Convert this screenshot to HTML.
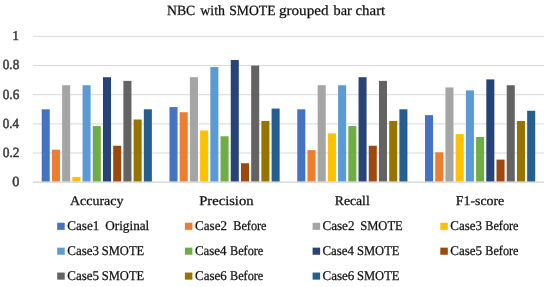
<!DOCTYPE html>
<html><head><meta charset="utf-8"><title>NBC with SMOTE grouped bar chart</title>
<style>html,body{margin:0;padding:0;background:#fff}svg{display:block}</style></head>
<body>
<svg width="550" height="287" viewBox="0 0 550 287" font-family="'Liberation Serif', serif" text-rendering="geometricPrecision">
<rect width="550" height="287" fill="#fff"/>
<line x1="32.9" x2="544.0" y1="182.20" y2="182.20" stroke="#D9D9D9" stroke-width="1"/>
<line x1="32.9" x2="544.0" y1="153.04" y2="153.04" stroke="#D9D9D9" stroke-width="1"/>
<line x1="32.9" x2="544.0" y1="123.88" y2="123.88" stroke="#D9D9D9" stroke-width="1"/>
<line x1="32.9" x2="544.0" y1="94.72" y2="94.72" stroke="#D9D9D9" stroke-width="1"/>
<line x1="32.9" x2="544.0" y1="65.56" y2="65.56" stroke="#D9D9D9" stroke-width="1"/>
<line x1="32.9" x2="544.0" y1="36.40" y2="36.40" stroke="#D9D9D9" stroke-width="1"/>
<rect x="41.71" y="109.30" width="8.04" height="72.30" fill="#4472C4"/>
<rect x="51.92" y="149.69" width="8.04" height="31.91" fill="#ED7D31"/>
<rect x="62.13" y="85.24" width="8.04" height="96.36" fill="#A5A5A5"/>
<rect x="72.34" y="177.10" width="8.04" height="4.50" fill="#FFC000"/>
<rect x="82.55" y="85.24" width="8.04" height="96.36" fill="#5B9BD5"/>
<rect x="92.77" y="126.07" width="8.04" height="55.53" fill="#70AD47"/>
<rect x="102.98" y="77.22" width="8.04" height="104.38" fill="#264478"/>
<rect x="113.19" y="145.75" width="8.04" height="35.85" fill="#9E480E"/>
<rect x="123.40" y="80.87" width="8.04" height="100.73" fill="#636363"/>
<rect x="133.62" y="119.51" width="8.04" height="62.09" fill="#997300"/>
<rect x="143.83" y="109.30" width="8.04" height="72.30" fill="#255E91"/>
<rect x="169.48" y="107.11" width="8.04" height="74.49" fill="#4472C4"/>
<rect x="179.69" y="112.22" width="8.04" height="69.38" fill="#ED7D31"/>
<rect x="189.90" y="77.22" width="8.04" height="104.38" fill="#A5A5A5"/>
<rect x="200.12" y="130.44" width="8.04" height="51.16" fill="#FFC000"/>
<rect x="210.33" y="67.02" width="8.04" height="114.58" fill="#5B9BD5"/>
<rect x="220.54" y="136.27" width="8.04" height="45.33" fill="#70AD47"/>
<rect x="230.75" y="60.02" width="8.04" height="121.58" fill="#264478"/>
<rect x="240.97" y="163.25" width="8.04" height="18.35" fill="#9E480E"/>
<rect x="251.18" y="65.56" width="8.04" height="116.04" fill="#636363"/>
<rect x="261.39" y="120.96" width="8.04" height="60.64" fill="#997300"/>
<rect x="271.60" y="108.57" width="8.04" height="73.03" fill="#255E91"/>
<rect x="297.26" y="109.30" width="8.04" height="72.30" fill="#4472C4"/>
<rect x="307.47" y="150.12" width="8.04" height="31.48" fill="#ED7D31"/>
<rect x="317.68" y="85.24" width="8.04" height="96.36" fill="#A5A5A5"/>
<rect x="327.89" y="133.36" width="8.04" height="48.24" fill="#FFC000"/>
<rect x="338.10" y="85.24" width="8.04" height="96.36" fill="#5B9BD5"/>
<rect x="348.32" y="126.07" width="8.04" height="55.53" fill="#70AD47"/>
<rect x="358.53" y="77.22" width="8.04" height="104.38" fill="#264478"/>
<rect x="368.74" y="145.75" width="8.04" height="35.85" fill="#9E480E"/>
<rect x="378.95" y="80.87" width="8.04" height="100.73" fill="#636363"/>
<rect x="389.17" y="120.96" width="8.04" height="60.64" fill="#997300"/>
<rect x="399.38" y="109.30" width="8.04" height="72.30" fill="#255E91"/>
<rect x="425.03" y="115.13" width="8.04" height="66.47" fill="#4472C4"/>
<rect x="435.24" y="152.31" width="8.04" height="29.29" fill="#ED7D31"/>
<rect x="445.45" y="87.43" width="8.04" height="94.17" fill="#A5A5A5"/>
<rect x="455.67" y="134.09" width="8.04" height="47.51" fill="#FFC000"/>
<rect x="465.88" y="90.35" width="8.04" height="91.25" fill="#5B9BD5"/>
<rect x="476.09" y="137.00" width="8.04" height="44.60" fill="#70AD47"/>
<rect x="486.30" y="79.41" width="8.04" height="102.19" fill="#264478"/>
<rect x="496.52" y="159.60" width="8.04" height="22.00" fill="#9E480E"/>
<rect x="506.73" y="85.24" width="8.04" height="96.36" fill="#636363"/>
<rect x="516.94" y="120.96" width="8.04" height="60.64" fill="#997300"/>
<rect x="527.15" y="110.76" width="8.04" height="70.84" fill="#255E91"/>
<line x1="32.9" x2="544.0" y1="182.20" y2="182.20" stroke="#D9D9D9" stroke-width="1"/>
<rect x="57.20" y="222.75" width="7.5" height="7.1" fill="#4472C4"/>
<rect x="184.90" y="222.75" width="7.5" height="7.1" fill="#ED7D31"/>
<rect x="312.60" y="222.75" width="7.5" height="7.1" fill="#A5A5A5"/>
<rect x="440.30" y="222.75" width="7.5" height="7.1" fill="#FFC000"/>
<rect x="57.20" y="247.65" width="7.5" height="7.1" fill="#5B9BD5"/>
<rect x="184.90" y="247.65" width="7.5" height="7.1" fill="#70AD47"/>
<rect x="312.60" y="247.65" width="7.5" height="7.1" fill="#264478"/>
<rect x="440.30" y="247.65" width="7.5" height="7.1" fill="#9E480E"/>
<rect x="57.20" y="272.55" width="7.5" height="7.1" fill="#636363"/>
<rect x="184.90" y="272.55" width="7.5" height="7.1" fill="#997300"/>
<rect x="312.60" y="272.55" width="7.5" height="7.1" fill="#255E91"/>
<text y="14.75" font-size="14.1" fill="#111111" stroke="#111111" stroke-width="0.25"><tspan id="t0" x="166.99" textLength="28.28" lengthAdjust="spacingAndGlyphs">NBC</tspan> <tspan id="t1" x="200.25" textLength="24.75" lengthAdjust="spacingAndGlyphs">with</tspan> <tspan id="t2" x="229.23" textLength="46.29" lengthAdjust="spacingAndGlyphs">SMOTE</tspan> <tspan id="t3" x="278.99" textLength="49.51" lengthAdjust="spacingAndGlyphs">grouped</tspan> <tspan id="t4" x="333.50" textLength="18.25" lengthAdjust="spacingAndGlyphs">bar</tspan> <tspan id="t5" x="355.50" textLength="29.75" lengthAdjust="spacingAndGlyphs">chart</tspan></text>
<text y="205.30" font-size="13.2" fill="#111111" stroke="#111111" stroke-width="0.25"><tspan id="c0" x="70.00" textLength="53.50" lengthAdjust="spacingAndGlyphs">Accuracy</tspan></text>
<text y="205.30" font-size="13.2" fill="#111111" stroke="#111111" stroke-width="0.25"><tspan id="c1" x="199.25" textLength="54.25" lengthAdjust="spacingAndGlyphs">Precision</tspan></text>
<text y="205.30" font-size="13.2" fill="#111111" stroke="#111111" stroke-width="0.25"><tspan id="c2" x="334.74" textLength="35.01" lengthAdjust="spacingAndGlyphs">Recall</tspan></text>
<text y="205.30" font-size="13.2" fill="#111111" stroke="#111111" stroke-width="0.25"><tspan id="c3" x="455.75" textLength="48.51" lengthAdjust="spacingAndGlyphs">F1-score</tspan></text>
<text id="y0" transform="matrix(1.0166 0 0 1 12.24 0)" x="0" y="186.05" font-size="14.0" fill="#3a3a3a" stroke="#3a3a3a" stroke-width="0.5">0</text>
<text y="156.89" font-size="14.0" fill="#3a3a3a" stroke="#3a3a3a" stroke-width="0.5"><tspan id="y1" x="2.74" textLength="16.79" lengthAdjust="spacingAndGlyphs">0.2</tspan></text>
<text y="127.73" font-size="14.0" fill="#3a3a3a" stroke="#3a3a3a" stroke-width="0.5"><tspan id="y2" x="2.75" textLength="16.25" lengthAdjust="spacingAndGlyphs">0.4</tspan></text>
<text y="98.57" font-size="14.0" fill="#3a3a3a" stroke="#3a3a3a" stroke-width="0.5"><tspan id="y3" x="2.74" textLength="16.52" lengthAdjust="spacingAndGlyphs">0.6</tspan></text>
<text y="69.41" font-size="14.0" fill="#3a3a3a" stroke="#3a3a3a" stroke-width="0.5"><tspan id="y4" x="2.74" textLength="16.52" lengthAdjust="spacingAndGlyphs">0.8</tspan></text>
<text id="y5" transform="matrix(1.0106 0 0 1 12.24 0)" x="0" y="40.25" font-size="13.3" fill="#3a3a3a" stroke="#3a3a3a" stroke-width="0.5">1</text>
<text y="229.90" font-size="13.4" fill="#111111" stroke="#111111" stroke-width="0.25"><tspan id="l0a" x="67.24" textLength="32.03" lengthAdjust="spacingAndGlyphs">Case1</tspan> <tspan id="l0b" x="105.25" textLength="44.01" lengthAdjust="spacingAndGlyphs">Original</tspan></text>
<text y="229.90" font-size="13.4" fill="#111111" stroke="#111111" stroke-width="0.25"><tspan id="l1a" x="194.99" textLength="32.04" lengthAdjust="spacingAndGlyphs">Case2</tspan> <tspan id="l1b" x="233.25" textLength="33.26" lengthAdjust="spacingAndGlyphs">Before</tspan></text>
<text y="229.90" font-size="13.4" fill="#111111" stroke="#111111" stroke-width="0.25"><tspan id="l2a" x="322.48" textLength="32.03" lengthAdjust="spacingAndGlyphs">Case2</tspan> <tspan id="l2b" x="360.23" textLength="42.54" lengthAdjust="spacingAndGlyphs">SMOTE</tspan></text>
<text y="229.90" font-size="13.4" fill="#111111" stroke="#111111" stroke-width="0.25"><tspan id="l3a" x="450.24" textLength="31.77" lengthAdjust="spacingAndGlyphs">Case3</tspan> <tspan id="l3b" x="485.25" textLength="33.26" lengthAdjust="spacingAndGlyphs">Before</tspan></text>
<text y="254.80" font-size="13.4" fill="#111111" stroke="#111111" stroke-width="0.25"><tspan id="l4a" x="67.24" textLength="31.77" lengthAdjust="spacingAndGlyphs">Case3</tspan> <tspan id="l4b" x="101.73" textLength="42.54" lengthAdjust="spacingAndGlyphs">SMOTE</tspan></text>
<text y="254.80" font-size="13.4" fill="#111111" stroke="#111111" stroke-width="0.25"><tspan id="l5a" x="194.99" textLength="31.51" lengthAdjust="spacingAndGlyphs">Case4</tspan> <tspan id="l5b" x="229.99" textLength="33.26" lengthAdjust="spacingAndGlyphs">Before</tspan></text>
<text y="254.80" font-size="13.4" fill="#111111" stroke="#111111" stroke-width="0.25"><tspan id="l6a" x="322.49" textLength="31.51" lengthAdjust="spacingAndGlyphs">Case4</tspan> <tspan id="l6b" x="356.98" textLength="42.54" lengthAdjust="spacingAndGlyphs">SMOTE</tspan></text>
<text y="254.80" font-size="13.4" fill="#111111" stroke="#111111" stroke-width="0.25"><tspan id="l7a" x="450.24" textLength="31.77" lengthAdjust="spacingAndGlyphs">Case5</tspan> <tspan id="l7b" x="485.25" textLength="33.26" lengthAdjust="spacingAndGlyphs">Before</tspan></text>
<text y="279.70" font-size="13.4" fill="#111111" stroke="#111111" stroke-width="0.25"><tspan id="l8a" x="67.24" textLength="31.77" lengthAdjust="spacingAndGlyphs">Case5</tspan> <tspan id="l8b" x="101.73" textLength="42.54" lengthAdjust="spacingAndGlyphs">SMOTE</tspan></text>
<text y="279.70" font-size="13.4" fill="#111111" stroke="#111111" stroke-width="0.25"><tspan id="l9a" x="194.99" textLength="31.77" lengthAdjust="spacingAndGlyphs">Case6</tspan> <tspan id="l9b" x="229.99" textLength="33.26" lengthAdjust="spacingAndGlyphs">Before</tspan></text>
<text y="279.70" font-size="13.4" fill="#111111" stroke="#111111" stroke-width="0.25"><tspan id="l10a" x="322.49" textLength="31.77" lengthAdjust="spacingAndGlyphs">Case6</tspan> <tspan id="l10b" x="356.98" textLength="42.54" lengthAdjust="spacingAndGlyphs">SMOTE</tspan></text>
</svg>
</body></html>
